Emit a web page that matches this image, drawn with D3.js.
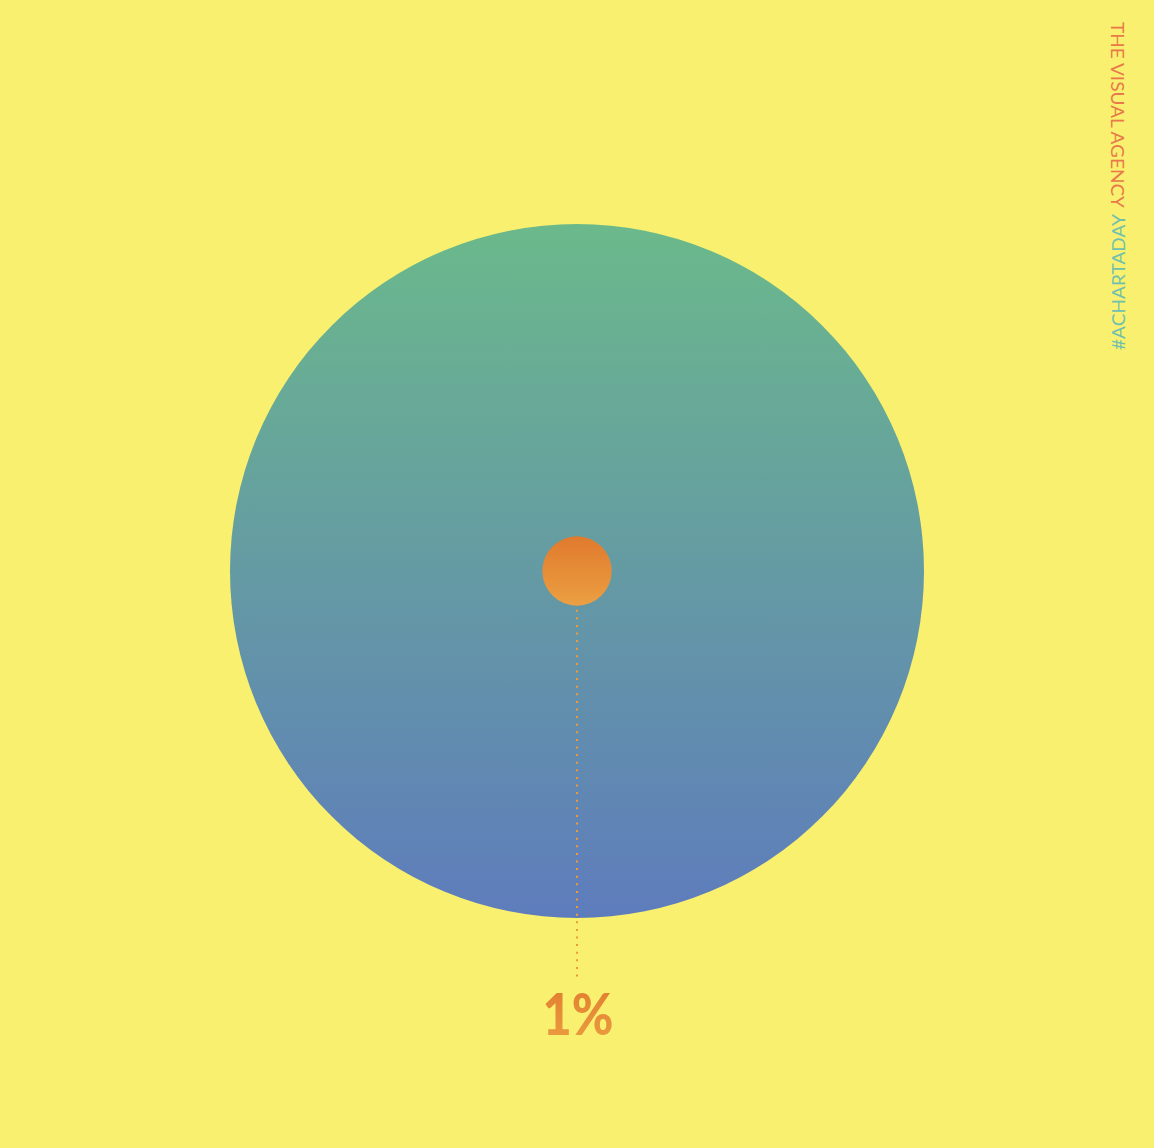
<!DOCTYPE html>
<html>
<head>
<meta charset="utf-8">
<script src="https://cdn.jsdelivr.net/npm/d3@7"></script>
<style>
  html, body { margin: 0; padding: 0; background: #F8F06E; }
  svg { display: block; }
</style>
</head>
<body>
<div id="chart"></div>
<script>
// data
const totalShare = [100];
const partShare = [1];
const shareLabels = ['1%'];
const creditTop = ['THE VISUAL AGENCY'];
const creditTag = ['#ACHARTADAY'];

const W = 1154, H = 1148;
const cx = 577, cy = 571;

const svg = d3.select('#chart')
	.append('svg')
	.attr('width', W)
	.attr('height', H);

svg.append('rect')
	.attr('width', W)
	.attr('height', H)
	.attr('fill', '#F8F06E');

const defs = svg.append('defs');

const bigGrad = defs.append('linearGradient')
	.attr('id', 'bigGrad')
	.attr('x1', 0).attr('y1', 0).attr('x2', 0).attr('y2', 1);
bigGrad.append('stop').attr('offset', '0%').attr('stop-color', '#6BB98B');
bigGrad.append('stop').attr('offset', '100%').attr('stop-color', '#5E7CBC');

const smallGrad = defs.append('linearGradient')
	.attr('id', 'smallGrad')
	.attr('x1', 0).attr('y1', 0).attr('x2', 0).attr('y2', 1);
smallGrad.append('stop').attr('offset', '0%').attr('stop-color', '#E07A2D');
smallGrad.append('stop').attr('offset', '100%').attr('stop-color', '#EC9F42');

const r = d3.scaleSqrt()
	.domain([0, totalShare[0]])
	.range([0, 347]);

// big circle = total
svg.selectAll('.total')
	.data(totalShare)
	.enter()
	.append('circle')
	.attr('class', 'total')
	.attr('cx', cx)
	.attr('cy', cy)
	.attr('r', d => r(d))
	.attr('fill', 'url(#bigGrad)');

// small circle = part
svg.selectAll('.part')
	.data(partShare)
	.enter()
	.append('circle')
	.attr('class', 'part')
	.attr('cx', cx)
	.attr('cy', cy)
	.attr('r', d => r(d))
	.attr('fill', 'url(#smallGrad)');

// dotted leader
svg.selectAll('.leader')
	.data(partShare)
	.enter()
	.append('line')
	.attr('class', 'leader')
	.attr('x1', cx).attr('x2', cx)
	.attr('y1', d => cy + r(d) + 4)
	.attr('y2', cy + r(totalShare[0]) + 60)
	.attr('stroke', '#EE9A3A')
	.attr('stroke-width', 2)
	.attr('stroke-dasharray', '2 5.6');

const labelGrad = defs.append('linearGradient')
	.attr('id', 'labelGrad')
	.attr('x1', 0).attr('y1', 0).attr('x2', 0).attr('y2', 1);
labelGrad.append('stop').attr('offset', '0%').attr('stop-color', '#E07A2D');
labelGrad.append('stop').attr('offset', '100%').attr('stop-color', '#EC9F42');

svg.selectAll('.label')
	.data(shareLabels)
	.enter()
	.append('text')
	.attr('class', 'label')
	.attr('x', cx + 1)
	.attr('y', 1035)
	.attr('text-anchor', 'middle')
	.attr('font-family', 'Lato, "Open Sans", sans-serif')
	.attr('font-weight', 900)
	.attr('font-size', 58)
	.attr('textLength', 71)
	.attr('lengthAdjust', 'spacingAndGlyphs')
	.attr('fill', 'url(#labelGrad)')
	.text(d => d);

// credit, vertical
svg.append('text')
	.attr('transform', 'translate(1111,22) rotate(90)')
	.attr('font-family', 'Lato, sans-serif')
	.attr('font-weight', 400)
	.attr('font-size', 17)
	.attr('fill', '#E9794A')
	.attr('textLength', 186)
	.attr('lengthAdjust', 'spacingAndGlyphs')
	.text(creditTop[0]);

svg.append('text')
	.attr('transform', 'translate(1125,350) rotate(-90)')
	.attr('font-family', 'Lato, sans-serif')
	.attr('font-weight', 400)
	.attr('font-size', 17)
	.attr('fill', '#6FC0AE')
	.attr('textLength', 136)
	.attr('lengthAdjust', 'spacingAndGlyphs')
	.text(creditTag[0]);
</script>
</body>
</html>
